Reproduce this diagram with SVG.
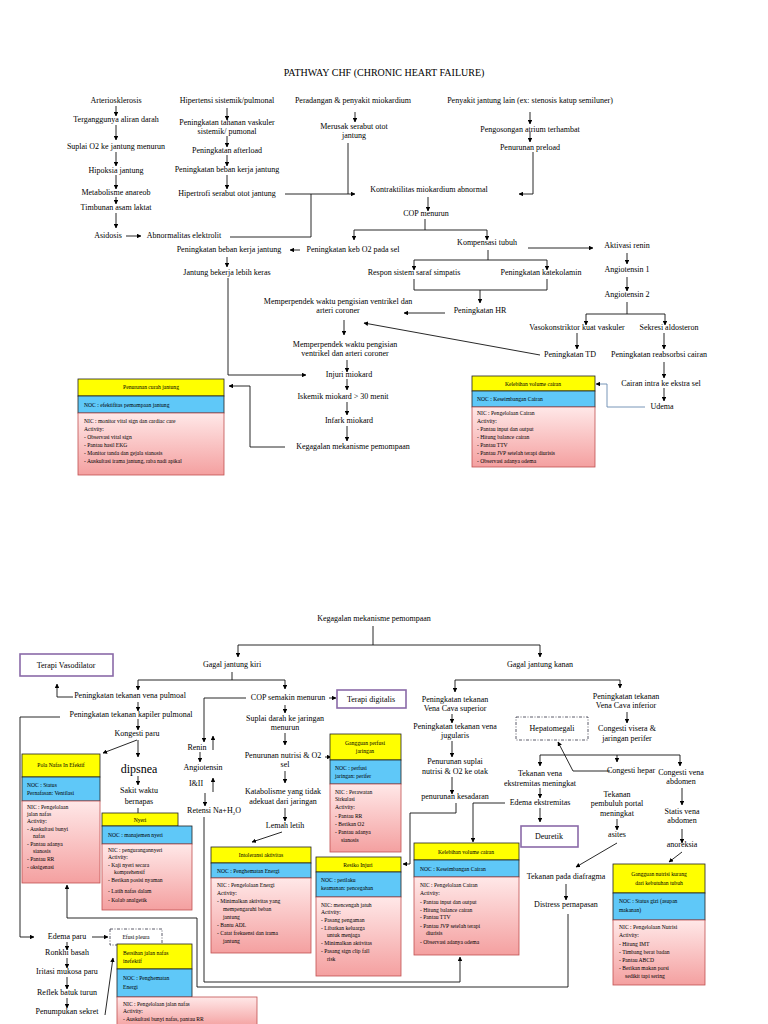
<svg xmlns="http://www.w3.org/2000/svg" width="768" height="1024" viewBox="0 0 768 1024">
<defs>
<marker id="a" viewBox="0 0 10 10" refX="9" refY="5" markerWidth="5" markerHeight="5" orient="auto"><path d="M0,0L10,5L0,10z" fill="#000"/></marker>
<linearGradient id="pk" x1="0" y1="0" x2="0" y2="1"><stop offset="0" stop-color="#ffe8e8"/><stop offset="1" stop-color="#f4a0a0"/></linearGradient>
<style>
text{font-family:"Liberation Serif","Times New Roman",serif;font-size:8px;fill:#000}
.c{text-anchor:middle}
.s{font-size:5.6px}
.y{fill:#ffff00;stroke:#222;stroke-width:0.8}
.b{fill:#5fc8f8;stroke:#222;stroke-width:0.8}
.p{fill:url(#pk);stroke:#c05050;stroke-width:0.8}
.v{fill:#fff;stroke:#8a6aa8;stroke-width:1.6}
.d{fill:#fff;stroke:#334;stroke-width:0.8;stroke-dasharray:3,1.5,1,1.5}
#cn path,#cn line{fill:none;stroke:#111;stroke-width:0.9}
.ar{marker-end:url(#a)}
</style>
</defs>
<rect width="768" height="1024" fill="#fff"/>
<text x="384" y="76" class="c" style="font-size:10px">PATHWAY CHF (CHRONIC HEART FAILURE)</text>

<g id="cn">
<line class="ar" x1="116" y1="106" x2="116" y2="116"/>
<line class="ar" x1="116" y1="125" x2="116" y2="140"/>
<line class="ar" x1="116" y1="152" x2="116" y2="166"/>
<line class="ar" x1="116" y1="175" x2="116" y2="189"/>
<line class="ar" x1="116" y1="197" x2="116" y2="204"/>
<line class="ar" x1="116" y1="213" x2="116" y2="228"/>
<line class="ar" x1="126" y1="236" x2="141" y2="236"/>
<line class="ar" x1="227" y1="108" x2="227" y2="120"/>
<line class="ar" x1="227" y1="136" x2="227" y2="147"/>
<line class="ar" x1="227" y1="155" x2="227" y2="166"/>
<line class="ar" x1="227" y1="175" x2="227" y2="189"/>
<path class="ar" d="M285,194H355"/>
<path d="M230,237H311V194"/>
<line class="ar" x1="355" y1="112" x2="355" y2="122"/>
<path d="M348,143V194"/>
<line class="ar" x1="530" y1="112" x2="530" y2="124"/>
<line class="ar" x1="530" y1="132" x2="530" y2="142"/>
<path class="ar" d="M533,152V194H519"/>
<line class="ar" x1="428" y1="197" x2="428" y2="211"/>
<path d="M425,219V230"/>
<path class="ar" d="M354,230V240"/>
<path class="ar" d="M354,230H487V240"/>
<line class="ar" x1="300" y1="250" x2="290" y2="250"/>
<line class="ar" x1="227" y1="257" x2="227" y2="267"/>
<path class="ar" d="M228,278V375H306"/>
<line class="ar" x1="528" y1="248" x2="593" y2="248"/>
<line class="ar" x1="627" y1="253" x2="627" y2="264"/>
<line class="ar" x1="627" y1="277" x2="627" y2="291"/>
<path d="M488,250V260"/>
<path class="ar" d="M414,260V270"/>
<path class="ar" d="M414,260H547V270"/>
<path d="M414,279V290H547V279"/>
<line class="ar" x1="480" y1="290" x2="480" y2="303"/>
<line class="ar" x1="445" y1="313" x2="404" y2="313"/>
<line class="ar" x1="344" y1="320" x2="344" y2="335"/>
<line class="ar" x1="347" y1="360" x2="347" y2="372"/>
<line class="ar" x1="347" y1="379" x2="347" y2="390"/>
<line class="ar" x1="347" y1="402" x2="347" y2="415"/>
<line class="ar" x1="347" y1="426" x2="347" y2="441"/>
<path class="ar" d="M285,447H250V386H229"/>
<path d="M627,302V314"/>
<path class="ar" d="M586,314V325"/>
<path class="ar" d="M586,314H665V325"/>
<line class="ar" x1="577" y1="333" x2="577" y2="349"/>
<line class="ar" x1="664" y1="333" x2="664" y2="349"/>
<line class="ar" x1="540" y1="355" x2="364" y2="323"/>
<line class="ar" x1="664" y1="362" x2="664" y2="378"/>
<line class="ar" x1="664" y1="388" x2="664" y2="401"/>
<path class="ar" d="M645,407H607V384H596" style="stroke:#6a8ab0"/>

<path d="M373,626V645"/>
<path class="ar" d="M238,645V657"/>
<path class="ar" d="M238,645H540V657"/>
<path d="M232,672V680"/>
<path class="ar" d="M138,680V690"/>
<path class="ar" d="M138,680H285V689"/>
<path class="ar" d="M73,697H57V684"/>
<line class="ar" x1="138" y1="702" x2="138" y2="711"/>
<path class="ar" d="M60,717H20V937H34"/>
<line class="ar" x1="138" y1="719" x2="138" y2="730"/>
<line class="ar" x1="137" y1="740" x2="103" y2="753"/>
<line class="ar" x1="138" y1="740" x2="138" y2="757"/>
<line class="ar" x1="138" y1="776" x2="138" y2="785"/>
<line class="ar" x1="138" y1="808" x2="138" y2="819"/>
<line class="ar" x1="329" y1="698" x2="336" y2="698"/>
<path class="ar" d="M246,698H204V742"/>
<line class="ar" x1="213" y1="750" x2="213" y2="736"/>
<line class="ar" x1="200" y1="752" x2="200" y2="762"/>
<line class="ar" x1="213" y1="792" x2="213" y2="778"/>
<line class="ar" x1="205" y1="793" x2="205" y2="806"/>
<path class="ar" d="M204,817V982H460V957"/>
<line class="ar" x1="285" y1="705" x2="285" y2="713"/>
<line class="ar" x1="285" y1="733" x2="285" y2="745"/>
<line class="ar" x1="325" y1="757" x2="331" y2="757"/>
<line class="ar" x1="285" y1="771" x2="285" y2="783"/>
<line class="ar" x1="285" y1="808" x2="285" y2="821"/>
<line class="ar" x1="282" y1="832" x2="252" y2="842"/>
<line class="ar" x1="67" y1="942" x2="67" y2="950"/>
<line class="ar" x1="67" y1="958" x2="67" y2="968"/>
<line class="ar" x1="67" y1="977" x2="67" y2="989"/>
<line class="ar" x1="67" y1="998" x2="67" y2="1008"/>
<line class="ar" x1="92" y1="937" x2="108" y2="937"/>
<line class="ar" x1="105" y1="1015" x2="113" y2="958"/>
<path class="ar" d="M568,914V987H197V918H67V885"/>
<line class="ar" x1="452" y1="714" x2="452" y2="723"/>
<line class="ar" x1="452" y1="741" x2="452" y2="757"/>
<line class="ar" x1="452" y1="777" x2="452" y2="794"/>
<path class="ar" d="M456,803V813H410V864H403"/>
<path class="ar" d="M455,680V692"/>
<path class="ar" d="M540,680H620V688"/>
<line x1="540" y1="680" x2="455" y2="680"/>
<line class="ar" x1="627" y1="712" x2="627" y2="723"/>
<path class="ar" d="M540,755V766"/>
<path class="ar" d="M540,755H680V766"/>
<line class="ar" x1="617" y1="755" x2="617" y2="762"/>
<path class="ar" d="M610,771H573L558,742"/>
<line class="ar" x1="540" y1="788" x2="540" y2="798"/>
<line class="ar" x1="540" y1="808" x2="540" y2="822"/>
<path class="ar" d="M505,803H473V842"/>
<line class="ar" x1="617" y1="819" x2="617" y2="830"/>
<line class="ar" x1="617" y1="843" x2="576" y2="867"/>
<line class="ar" x1="566" y1="884" x2="566" y2="900"/>
<line class="ar" x1="682" y1="788" x2="682" y2="805"/>
<line class="ar" x1="682" y1="829" x2="682" y2="843"/>
<line class="ar" x1="682" y1="852" x2="669" y2="862"/>
</g>

<g id="top">
<text x="116" y="103" class="c">Arteriosklerosis</text>
<text x="116" y="122" class="c">Terganggunya aliran darah</text>
<text x="116" y="149" class="c">Suplai O2 ke jantung menurun</text>
<text x="116" y="173" class="c">Hipoksia jantung</text>
<text x="116" y="195" class="c">Metabolisme anareob</text>
<text x="116" y="210" class="c">Timbunan asam laktat</text>
<text x="108" y="238" class="c">Asidosis</text>
<text x="184" y="238" class="c">Abnormalitas elektrolit</text>
<text x="227" y="103" class="c">Hipertensi sistemik/pulmonal</text>
<text x="227" y="125" class="c">Peningkatan tahanan vaskuler</text>
<text x="227" y="134" class="c">sistemik/ pumonal</text>
<text x="227" y="153" class="c">Peningkatan afterload</text>
<text x="227" y="172" class="c">Peningkatan beban kerja jantung</text>
<text x="227" y="196" class="c">Hipertrofi serabut otot jantung</text>
<text x="229" y="252" class="c">Peningkatan beban kerja jantung</text>
<text x="227" y="275" class="c">Jantung bekerja lebih keras</text>
<text x="353" y="103" class="c">Peradangan &amp; penyakit miokardium</text>
<text x="354" y="129" class="c">Merusak serabut otot</text>
<text x="354" y="138" class="c">jantung</text>
<text x="530" y="103" class="c">Penyakit jantung lain (ex: stenosis katup semiluner)</text>
<text x="530" y="132" class="c">Pengosongan atrium terhambat</text>
<text x="530" y="150" class="c">Penurunan preload</text>
<text x="429" y="192" class="c">Kontraktilitas miokardium abnormal</text>
<text x="426" y="216" class="c">COP menurun</text>
<text x="353" y="252" class="c">Peningkatan keb O2 pada sel</text>
<text x="487" y="245" class="c">Kompensasi tubuh</text>
<text x="627" y="248" class="c">Aktivasi renin</text>
<text x="627" y="272" class="c">Angiotensin 1</text>
<text x="627" y="297" class="c">Angiotensin 2</text>
<text x="414" y="275" class="c">Respon sistem saraf simpatis</text>
<text x="541" y="275" class="c">Peningkatan katekolamin</text>
<text x="480" y="313" class="c">Peningkatan HR</text>
<text x="338" y="304" class="c">Memperpendek waktu pengisian ventrikel dan</text>
<text x="338" y="313" class="c">arteri coroner</text>
<text x="345" y="347" class="c">Memperpendek waktu pengisian</text>
<text x="345" y="356" class="c">ventrikel dan arteri coroner</text>
<text x="349" y="377" class="c">Injuri miokard</text>
<text x="343" y="399" class="c">Iskemik miokard &gt; 30 menit</text>
<text x="349" y="423" class="c">Infark miokard</text>
<text x="353" y="449" class="c">Kegagalan mekanisme pemompaan</text>
<text x="577" y="330" class="c">Vasokonstriktor kuat vaskuler</text>
<text x="669" y="330" class="c">Sekresi aldosteron</text>
<text x="570" y="357" class="c">Peningkatan TD</text>
<text x="659" y="357" class="c">Peningkatan reabsorbsi cairan</text>
<text x="661" y="386" class="c">Cairan intra ke ekstra sel</text>
<text x="662" y="409" class="c">Udema</text>
</g>

<g id="box-curah">
<rect x="78" y="379" width="146" height="17" class="y"/>
<rect x="78" y="396" width="146" height="17" class="b"/>
<rect x="78" y="413" width="146" height="62" class="p"/>
<text x="151" y="389" class="c s">Penurunan curah jantung</text>
<text x="84" y="407" class="s">NOC : efektifitas pemompaan jantung</text>
<text x="84" y="423" class="s">NIC : monitor vital sign dan cardiac care</text>
<text x="84" y="431" class="s">Activity:</text>
<text x="84" y="439" class="s">-  Observasi vital sign</text>
<text x="84" y="447" class="s">-  Pantau hasil EKG</text>
<text x="84" y="455" class="s">-  Monitor tanda dan gejala sianosis</text>
<text x="84" y="463" class="s">-  Auskultasi irama jantung, raba nadi apikal</text>
</g>
<g id="box-cairan1">
<rect x="472" y="376" width="123" height="15" class="y"/>
<rect x="472" y="391" width="123" height="16" class="b"/>
<rect x="472" y="407" width="123" height="60" class="p"/>
<text x="533" y="386" class="c s">Kelebihan volume cairan</text>
<text x="477" y="401" class="s">NOC : Keseimbangan Cairan</text>
<text x="477" y="415" class="s">NIC : Pengelolaan Cairan</text>
<text x="477" y="423" class="s">Activity:</text>
<text x="477" y="431" class="s">-  Pantau input dan output</text>
<text x="477" y="439" class="s">-  Hitung balance cairan</text>
<text x="477" y="447" class="s">-  Pantau TTV</text>
<text x="477" y="455" class="s">-  Pantau JVP setelah terapi diurisis</text>
<text x="477" y="463" class="s">-  Observasi adanya odema</text>
</g>

<g id="bottom">
<text x="374" y="621" class="c">Kegagalan mekanisme pemompaan</text>
<text x="232" y="667" class="c">Gagal jantung kiri</text>
<text x="540" y="667" class="c">Gagal jantung kanan</text>
<text x="130" y="698" class="c">Peningkatan tekanan vena pulmoal</text>
<text x="131" y="717" class="c">Peningkatan tekanan kapiler pulmonal</text>
<text x="137" y="736" class="c">Kongesti paru</text>
<text x="139" y="773" class="c" style="font-size:12px">dipsnea</text>
<text x="139" y="793" class="c">Sakit waktu</text>
<text x="139" y="804" class="c">bernapas</text>
<text x="288" y="700" class="c">COP semakin menurun</text>
<text x="197" y="750" class="c">Renin</text>
<text x="203" y="770" class="c">Angiotensin</text>
<text x="196" y="786" class="c">I&amp;II</text>
<text x="214" y="813" class="c">Retensi Na+H<tspan style="font-size:5px" dy="2">2</tspan><tspan dy="-2">O</tspan></text>
<text x="285" y="721" class="c">Suplai darah ke jaringan</text>
<text x="285" y="730" class="c">menurun</text>
<text x="283" y="758" class="c">Penurunan nutrisi &amp; O2</text>
<text x="285" y="767" class="c">sel</text>
<text x="283" y="794" class="c">Katabolisme yang tidak</text>
<text x="283" y="804" class="c">adekuat dari jaringan</text>
<text x="285" y="828" class="c">Lemah letih</text>
<text x="67" y="939" class="c">Edema paru</text>
<text x="67" y="955" class="c">Ronkhi basah</text>
<text x="67" y="974" class="c">Iritasi mukosa paru</text>
<text x="67" y="995" class="c">Reflek batuk turun</text>
<text x="67" y="1014" class="c">Penumpukan sekret</text>
<text x="455" y="702" class="c">Peningkatan tekanan</text>
<text x="455" y="711" class="c">Vena Cava superior</text>
<text x="455" y="729" class="c">Peningkatan tekanan vena</text>
<text x="455" y="738" class="c">jugularis</text>
<text x="455" y="764" class="c">Penurunan suplai</text>
<text x="455" y="774" class="c">nutrisi &amp; O2 ke otak</text>
<text x="455" y="799" class="c">penurunan kesadaran</text>
<text x="626" y="699" class="c">Peningkatan tekanan</text>
<text x="626" y="708" class="c">Vena Cava inferior</text>
<text x="627" y="731" class="c">Congesti visera &amp;</text>
<text x="627" y="741" class="c">jaringan perifer</text>
<text x="631" y="773" class="c">Congesti hepar</text>
<text x="681" y="775" class="c">Congesti vena</text>
<text x="681" y="784" class="c">abdomen</text>
<text x="540" y="776" class="c">Tekanan vena</text>
<text x="540" y="786" class="c">ekstremitas meningkat</text>
<text x="540" y="805" class="c">Edema ekstremitas</text>
<text x="617" y="797" class="c">Tekanan</text>
<text x="617" y="806" class="c">pembuluh portal</text>
<text x="617" y="816" class="c">meningkat</text>
<text x="617" y="837" class="c">asites</text>
<text x="566" y="879" class="c">Tekanan pada diafragma</text>
<text x="566" y="907" class="c">Distress pernapasan</text>
<text x="682" y="814" class="c">Statis vena</text>
<text x="682" y="823" class="c">abdomen</text>
<text x="682" y="847" class="c">anoreksia</text>
</g>

<g id="terapi-vasodilator"><rect x="20" y="654" width="93" height="22" class="v"/><text x="66" y="668" class="c">Terapi Vasodilator</text></g>
<g id="terapi-digitalis"><rect x="337" y="690" width="69" height="18" class="v"/><text x="371" y="702" class="c">Terapi digitalis</text></g>
<g id="deuretik"><rect x="521" y="826" width="57" height="21" class="v"/><text x="549" y="839" class="c">Deuretik</text></g>
<g id="hepatomegali"><rect x="516" y="717" width="72" height="23" class="d"/><text x="552" y="731" class="c">Hepatomegali</text></g>
<g id="efusi"><rect x="110" y="929" width="52" height="16" class="d"/><text x="136" y="939" class="c s">Efusi pleura</text></g>

<g id="box-polanafas">
<rect x="22" y="754" width="78" height="23" class="y"/>
<rect x="22" y="777" width="78" height="24" class="b"/>
<rect x="22" y="801" width="78" height="82" class="p"/>
<text x="61" y="767" class="c s">Pola Nafas In Efektif</text>
<text x="27" y="787" class="s">NOC : Status</text>
<text x="27" y="795" class="s">Pernafasan: Ventilasi</text>
<text x="27" y="809" class="s">NIC : Pengelolaan</text>
<text x="27" y="816" class="s">jalan nafas</text>
<text x="27" y="823" class="s">Activity:</text>
<text x="27" y="831" class="s">-  Auskultasi bunyi</text>
<text x="33" y="838" class="s">nafas</text>
<text x="27" y="846" class="s">-  Pantau adanya</text>
<text x="33" y="853" class="s">sianosis</text>
<text x="27" y="861" class="s">-  Pantau RR</text>
<text x="27" y="869" class="s">-  oksigenasi</text>
</g>
<g id="box-nyeri">
<rect x="102" y="813" width="76" height="13" class="y"/>
<rect x="102" y="826" width="90" height="18" class="b"/>
<rect x="102" y="844" width="90" height="66" class="p"/>
<text x="140" y="822" class="c s">Nyeri</text>
<text x="108" y="837" class="s">NOC : manajemen nyeri</text>
<text x="108" y="852" class="s">NIC : pengurangannyeri</text>
<text x="108" y="859" class="s">Activity:</text>
<text x="108" y="867" class="s">-  Kaji nyeri secara</text>
<text x="114" y="874" class="s">komprehensif</text>
<text x="108" y="882" class="s">-  Berikan posisi nyaman</text>
<text x="108" y="893" class="s">-  Latih nafas dalam</text>
<text x="108" y="902" class="s">-  Kolab analgetik</text>
</g>
<g id="box-perfusi">
<rect x="330" y="734" width="71" height="26" class="y"/>
<rect x="330" y="760" width="71" height="24" class="b"/>
<rect x="330" y="784" width="71" height="68" class="p"/>
<text x="365" y="745" class="c s">Gangguan perfusi</text>
<text x="365" y="753" class="c s">jaringan</text>
<text x="335" y="770" class="s">NOC : perfusi</text>
<text x="335" y="778" class="s">jaringan: perifer</text>
<text x="335" y="794" class="s">NIC : Perawatan</text>
<text x="335" y="801" class="s">Sirkulasi</text>
<text x="335" y="809" class="s">Activity:</text>
<text x="335" y="818" class="s">-  Pantau RR</text>
<text x="335" y="826" class="s">-  Berikan O2</text>
<text x="335" y="834" class="s">-  Pantau       adanya</text>
<text x="341" y="842" class="s">sianosis</text>
</g>
<g id="box-intoleransi">
<rect x="211" y="847" width="100" height="16" class="y"/>
<rect x="211" y="863" width="100" height="15" class="b"/>
<rect x="211" y="878" width="100" height="75" class="p"/>
<text x="261" y="857" class="c s">Intoleransi aktivitas</text>
<text x="217" y="873" class="s">NOC : Penghematan Energi</text>
<text x="217" y="887" class="s">NIC : Pengelolaan Energi</text>
<text x="217" y="895" class="s">Activity:</text>
<text x="217" y="903" class="s">-  Minimalkan aktivitas yang</text>
<text x="223" y="911" class="s">mempengaruhi beban</text>
<text x="223" y="919" class="s">jantung</text>
<text x="217" y="927" class="s">-  Bantu ADL</text>
<text x="217" y="935" class="s">-  Catat frekuensi dan irama</text>
<text x="223" y="943" class="s">jantung</text>
</g>
<g id="box-injuri">
<rect x="316" y="857" width="85" height="15" class="y"/>
<rect x="316" y="872" width="85" height="25" class="b"/>
<rect x="316" y="897" width="85" height="79" class="p"/>
<text x="358" y="867" class="c s">Resiko Injuri</text>
<text x="321" y="882" class="s">NOC : perilaku</text>
<text x="321" y="890" class="s">keamanan: pencegahan</text>
<text x="321" y="907" class="s">NIC: mencengah jatuh</text>
<text x="321" y="914" class="s">Activity:</text>
<text x="321" y="922" class="s">-  Pasang pengaman</text>
<text x="321" y="930" class="s">-  Libatkan keluarga</text>
<text x="327" y="937" class="s">untuk menjaga</text>
<text x="321" y="945" class="s">-  Minimalkan aktivitas</text>
<text x="321" y="953" class="s">-  Pasang sign clip fall</text>
<text x="327" y="961" class="s">risk</text>
</g>
<g id="box-cairan2">
<rect x="414" y="843" width="105" height="17" class="y"/>
<rect x="414" y="860" width="105" height="17" class="b"/>
<rect x="414" y="877" width="105" height="78" class="p"/>
<text x="466" y="854" class="c s">Kelebihan volume cairan</text>
<text x="420" y="871" class="s">NOC : Keseimbangan Cairan</text>
<text x="420" y="887" class="s">NIC : Pengelolaan Cairan</text>
<text x="420" y="895" class="s">Activity:</text>
<text x="420" y="904" class="s">-  Pantau input dan output</text>
<text x="420" y="912" class="s">-  Hitung balance cairan</text>
<text x="420" y="919" class="s">-  Pantau TTV</text>
<text x="420" y="928" class="s">-  Pantau JVP setelah terapi</text>
<text x="426" y="935" class="s">diurisis</text>
<text x="420" y="944" class="s">-  Observasi adanya odema</text>
</g>
<g id="box-nutrisi">
<rect x="613" y="864" width="92" height="29" class="y"/>
<rect x="613" y="893" width="92" height="27" class="b"/>
<rect x="613" y="920" width="92" height="65" class="p"/>
<text x="659" y="876" class="c s">Gangguan nutrisi kurang</text>
<text x="659" y="885" class="c s">dari kebutuhan tubuh</text>
<text x="619" y="903" class="s">NOC : Status gizi (asupan</text>
<text x="619" y="912" class="s">makanan)</text>
<text x="619" y="929" class="s">NIC : Pengelolaan Nutrisi</text>
<text x="619" y="937" class="s">Activity:</text>
<text x="619" y="946" class="s">-  Hitung IMT</text>
<text x="619" y="954" class="s">-  Timbang berat badan</text>
<text x="619" y="962" class="s">-  Pantau ABCD</text>
<text x="619" y="970" class="s">-  Berikan makan porsi</text>
<text x="625" y="978" class="s">sedikit tapi sering</text>
</g>
<g id="box-bersihan">
<rect x="117" y="944" width="75" height="25" class="y"/>
<rect x="117" y="969" width="75" height="28" class="b"/>
<rect x="117" y="997" width="140" height="30" class="p"/>
<text x="123" y="955" class="s">Bersihan jalan nafas</text>
<text x="123" y="963" class="s">inefektif</text>
<text x="123" y="980" class="s">NOC : Penghematan</text>
<text x="123" y="989" class="s">Energi</text>
<text x="123" y="1006" class="s">NIC : Pengelolaan  jalan nafas</text>
<text x="123" y="1013" class="s">Activity:</text>
<text x="123" y="1021" class="s">-  Auskultasi bunyi nafas, pantau RR</text>
</g>
</svg>
